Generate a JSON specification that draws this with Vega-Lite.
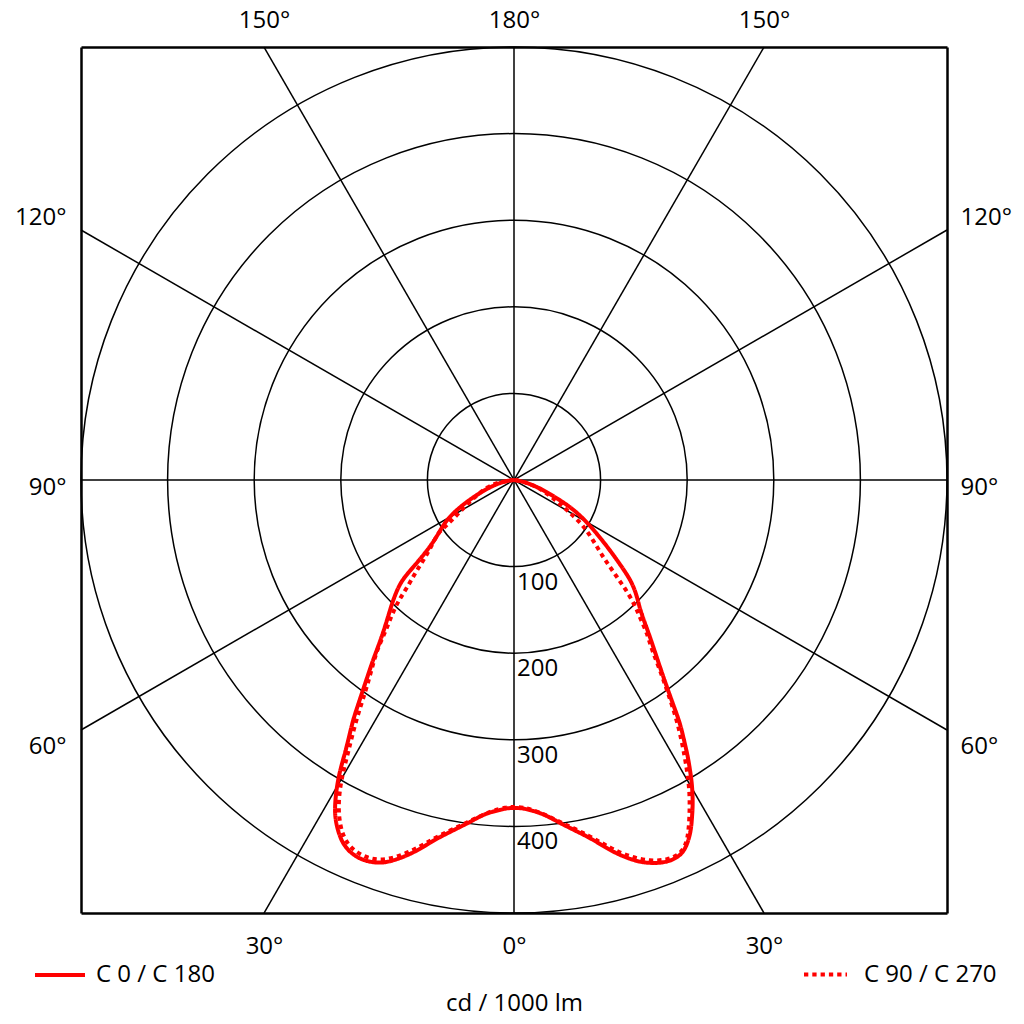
{
  "$schema": "https://vega.github.io/schema/vega-lite/v6.json",
  "width": 866,
  "height": 866,
  "autosize": {"type": "none"},
  "padding": {"left": 81, "top": 47, "right": 77, "bottom": 111},
  "background": "white",
  "config": {
    "view": {"stroke": null},
    "font": "Open Sans",
    "axis": {
      "domainColor": "black",
      "domainWidth": 2.5,
      "ticks": false,
      "grid": false,
      "labelFont": "Open Sans",
      "labelFontSize": 24,
      "labelColor": "black",
      "labelFlush": false,
      "labelOverlap": false,
      "titleFont": "Open Sans",
      "titleFontSize": 24,
      "titleFontWeight": "normal",
      "titleColor": "black"
    },
    "legend": {
      "labelFont": "Open Sans",
      "labelFontSize": 24,
      "labelColor": "black",
      "symbolType": "stroke",
      "symbolStrokeWidth": 4,
      "symbolStrokeColor": "#ff0000",
      "padding": 0
    }
  },
  "datasets": {
    "rings": [{"r": 100}, {"r": 200}, {"r": 300}, {"r": 400}, {"r": 500}],
    "ringlabels": [
      {"label": "100", "y": -100},
      {"label": "200", "y": -200},
      {"label": "300", "y": -300},
      {"label": "400", "y": -400}
    ],
    "rays": [
      {"x1": 0, "y1": -500, "x2": 0, "y2": 500},
      {"x1": 288.675, "y1": -500, "x2": -288.675, "y2": 500},
      {"x1": -288.675, "y1": -500, "x2": 288.675, "y2": 500},
      {"x1": 500, "y1": -288.675, "x2": -500, "y2": 288.675},
      {"x1": -500, "y1": -288.675, "x2": 500, "y2": 288.675},
      {"x1": -500, "y1": 0, "x2": 500, "y2": 0}
    ],
    "curves": [
      {"s": "C 0 / C 180", "i": 0, "x": 0, "y": 0},
      {"s": "C 0 / C 180", "i": 1, "x": -10.4, "y": -1.2},
      {"s": "C 0 / C 180", "i": 2, "x": -25.4, "y": -6.9},
      {"s": "C 0 / C 180", "i": 3, "x": -41.6, "y": -16.2},
      {"s": "C 0 / C 180", "i": 4, "x": -56.6, "y": -26.6},
      {"s": "C 0 / C 180", "i": 5, "x": -71.6, "y": -39.3},
      {"s": "C 0 / C 180", "i": 6, "x": -82.0, "y": -52.0},
      {"s": "C 0 / C 180", "i": 7, "x": -91.2, "y": -69.3},
      {"s": "C 0 / C 180", "i": 8, "x": -106.2, "y": -88.9},
      {"s": "C 0 / C 180", "i": 9, "x": -122.4, "y": -107.4},
      {"s": "C 0 / C 180", "i": 10, "x": -131.6, "y": -118.9},
      {"s": "C 0 / C 180", "i": 11, "x": -139.7, "y": -138.6},
      {"s": "C 0 / C 180", "i": 12, "x": -145.5, "y": -158.2},
      {"s": "C 0 / C 180", "i": 13, "x": -151.3, "y": -176.7},
      {"s": "C 0 / C 180", "i": 14, "x": -157.0, "y": -192.8},
      {"s": "C 0 / C 180", "i": 15, "x": -162.8, "y": -207.9},
      {"s": "C 0 / C 180", "i": 16, "x": -167.4, "y": -221.7},
      {"s": "C 0 / C 180", "i": 17, "x": -174.4, "y": -242.5},
      {"s": "C 0 / C 180", "i": 18, "x": -180.1, "y": -259.8},
      {"s": "C 0 / C 180", "i": 19, "x": -185.9, "y": -277.1},
      {"s": "C 0 / C 180", "i": 20, "x": -190.5, "y": -296.8},
      {"s": "C 0 / C 180", "i": 21, "x": -195.1, "y": -315.2},
      {"s": "C 0 / C 180", "i": 22, "x": -199.8, "y": -331.4},
      {"s": "C 0 / C 180", "i": 23, "x": -203.2, "y": -346.4},
      {"s": "C 0 / C 180", "i": 24, "x": -205.5, "y": -361.4},
      {"s": "C 0 / C 180", "i": 25, "x": -206.7, "y": -375.3},
      {"s": "C 0 / C 180", "i": 26, "x": -206.7, "y": -388.0},
      {"s": "C 0 / C 180", "i": 27, "x": -204.4, "y": -400.7},
      {"s": "C 0 / C 180", "i": 28, "x": -200.9, "y": -412.2},
      {"s": "C 0 / C 180", "i": 29, "x": -196.3, "y": -421.5},
      {"s": "C 0 / C 180", "i": 30, "x": -189.4, "y": -429.6},
      {"s": "C 0 / C 180", "i": 31, "x": -180.1, "y": -436.5},
      {"s": "C 0 / C 180", "i": 32, "x": -168.6, "y": -440.5},
      {"s": "C 0 / C 180", "i": 33, "x": -157.0, "y": -442.3},
      {"s": "C 0 / C 180", "i": 34, "x": -145.5, "y": -441.1},
      {"s": "C 0 / C 180", "i": 35, "x": -134.0, "y": -437.6},
      {"s": "C 0 / C 180", "i": 36, "x": -122.4, "y": -433.0},
      {"s": "C 0 / C 180", "i": 37, "x": -110.9, "y": -427.3},
      {"s": "C 0 / C 180", "i": 38, "x": -99.3, "y": -420.3},
      {"s": "C 0 / C 180", "i": 39, "x": -87.8, "y": -413.4},
      {"s": "C 0 / C 180", "i": 40, "x": -76.2, "y": -407.6},
      {"s": "C 0 / C 180", "i": 41, "x": -64.7, "y": -401.8},
      {"s": "C 0 / C 180", "i": 42, "x": -53.1, "y": -396.1},
      {"s": "C 0 / C 180", "i": 43, "x": -45.0, "y": -391.5},
      {"s": "C 0 / C 180", "i": 44, "x": -35.8, "y": -386.8},
      {"s": "C 0 / C 180", "i": 45, "x": -26.6, "y": -383.4},
      {"s": "C 0 / C 180", "i": 46, "x": -16.2, "y": -381.1},
      {"s": "C 0 / C 180", "i": 47, "x": -8.1, "y": -378.8},
      {"s": "C 0 / C 180", "i": 48, "x": 0, "y": -378.8},
      {"s": "C 0 / C 180", "i": 49, "x": 9.2, "y": -378.8},
      {"s": "C 0 / C 180", "i": 50, "x": 18.5, "y": -381.1},
      {"s": "C 0 / C 180", "i": 51, "x": 26.6, "y": -383.4},
      {"s": "C 0 / C 180", "i": 52, "x": 35.8, "y": -386.8},
      {"s": "C 0 / C 180", "i": 53, "x": 45.0, "y": -391.5},
      {"s": "C 0 / C 180", "i": 54, "x": 53.1, "y": -396.1},
      {"s": "C 0 / C 180", "i": 55, "x": 64.7, "y": -401.8},
      {"s": "C 0 / C 180", "i": 56, "x": 76.2, "y": -407.6},
      {"s": "C 0 / C 180", "i": 57, "x": 87.8, "y": -413.4},
      {"s": "C 0 / C 180", "i": 58, "x": 99.3, "y": -420.3},
      {"s": "C 0 / C 180", "i": 59, "x": 110.9, "y": -427.3},
      {"s": "C 0 / C 180", "i": 60, "x": 122.4, "y": -433.0},
      {"s": "C 0 / C 180", "i": 61, "x": 134.0, "y": -437.6},
      {"s": "C 0 / C 180", "i": 62, "x": 145.5, "y": -441.1},
      {"s": "C 0 / C 180", "i": 63, "x": 157.0, "y": -442.3},
      {"s": "C 0 / C 180", "i": 64, "x": 168.6, "y": -442.3},
      {"s": "C 0 / C 180", "i": 65, "x": 180.1, "y": -439.9},
      {"s": "C 0 / C 180", "i": 66, "x": 189.4, "y": -435.3},
      {"s": "C 0 / C 180", "i": 67, "x": 196.3, "y": -428.4},
      {"s": "C 0 / C 180", "i": 68, "x": 200.9, "y": -418.0},
      {"s": "C 0 / C 180", "i": 69, "x": 204.4, "y": -404.2},
      {"s": "C 0 / C 180", "i": 70, "x": 205.5, "y": -390.3},
      {"s": "C 0 / C 180", "i": 71, "x": 206.7, "y": -373.0},
      {"s": "C 0 / C 180", "i": 72, "x": 205.5, "y": -349.9},
      {"s": "C 0 / C 180", "i": 73, "x": 203.2, "y": -334.9},
      {"s": "C 0 / C 180", "i": 74, "x": 200.9, "y": -319.9},
      {"s": "C 0 / C 180", "i": 75, "x": 196.3, "y": -300.2},
      {"s": "C 0 / C 180", "i": 76, "x": 191.7, "y": -280.6},
      {"s": "C 0 / C 180", "i": 77, "x": 184.8, "y": -262.1},
      {"s": "C 0 / C 180", "i": 78, "x": 177.8, "y": -242.5},
      {"s": "C 0 / C 180", "i": 79, "x": 169.7, "y": -219.4},
      {"s": "C 0 / C 180", "i": 80, "x": 162.8, "y": -198.6},
      {"s": "C 0 / C 180", "i": 81, "x": 157.0, "y": -181.3},
      {"s": "C 0 / C 180", "i": 82, "x": 152.4, "y": -168.6},
      {"s": "C 0 / C 180", "i": 83, "x": 147.8, "y": -155.9},
      {"s": "C 0 / C 180", "i": 84, "x": 144.3, "y": -144.3},
      {"s": "C 0 / C 180", "i": 85, "x": 140.9, "y": -130.5},
      {"s": "C 0 / C 180", "i": 86, "x": 135.1, "y": -116.6},
      {"s": "C 0 / C 180", "i": 87, "x": 127.0, "y": -103.9},
      {"s": "C 0 / C 180", "i": 88, "x": 113.2, "y": -84.3},
      {"s": "C 0 / C 180", "i": 89, "x": 101.6, "y": -69.3},
      {"s": "C 0 / C 180", "i": 90, "x": 85.5, "y": -49.7},
      {"s": "C 0 / C 180", "i": 91, "x": 67.0, "y": -32.3},
      {"s": "C 0 / C 180", "i": 92, "x": 47.3, "y": -19.6},
      {"s": "C 0 / C 180", "i": 93, "x": 27.7, "y": -8.1},
      {"s": "C 0 / C 180", "i": 94, "x": 9.2, "y": -1.2},
      {"s": "C 0 / C 180", "i": 95, "x": 0, "y": 0},
      {"s": "C 90 / C 270", "i": 0, "x": 0, "y": 0},
      {"s": "C 90 / C 270", "i": 1, "x": -16.2, "y": -2.3},
      {"s": "C 90 / C 270", "i": 2, "x": -30.0, "y": -6.9},
      {"s": "C 90 / C 270", "i": 3, "x": -50.8, "y": -24.2},
      {"s": "C 90 / C 270", "i": 4, "x": -65.8, "y": -40.4},
      {"s": "C 90 / C 270", "i": 5, "x": -78.5, "y": -53.1},
      {"s": "C 90 / C 270", "i": 6, "x": -87.8, "y": -61.2},
      {"s": "C 90 / C 270", "i": 7, "x": -93.5, "y": -72.7},
      {"s": "C 90 / C 270", "i": 8, "x": -102.8, "y": -90.1},
      {"s": "C 90 / C 270", "i": 9, "x": -114.3, "y": -107.4},
      {"s": "C 90 / C 270", "i": 10, "x": -123.6, "y": -124.7},
      {"s": "C 90 / C 270", "i": 11, "x": -131.6, "y": -136.3},
      {"s": "C 90 / C 270", "i": 12, "x": -139.7, "y": -152.4},
      {"s": "C 90 / C 270", "i": 13, "x": -145.5, "y": -167.4},
      {"s": "C 90 / C 270", "i": 14, "x": -151.3, "y": -181.3},
      {"s": "C 90 / C 270", "i": 15, "x": -158.2, "y": -196.3},
      {"s": "C 90 / C 270", "i": 16, "x": -164.0, "y": -217.1},
      {"s": "C 90 / C 270", "i": 17, "x": -170.9, "y": -242.5},
      {"s": "C 90 / C 270", "i": 18, "x": -182.4, "y": -277.1},
      {"s": "C 90 / C 270", "i": 19, "x": -191.7, "y": -315.2},
      {"s": "C 90 / C 270", "i": 20, "x": -199.8, "y": -346.4},
      {"s": "C 90 / C 270", "i": 21, "x": -203.2, "y": -375.3},
      {"s": "C 90 / C 270", "i": 22, "x": -200.9, "y": -400.7},
      {"s": "C 90 / C 270", "i": 23, "x": -193.9, "y": -419.2},
      {"s": "C 90 / C 270", "i": 24, "x": -178.9, "y": -433.0},
      {"s": "C 90 / C 270", "i": 25, "x": -157.0, "y": -440.0},
      {"s": "C 90 / C 270", "i": 26, "x": -134.0, "y": -435.3},
      {"s": "C 90 / C 270", "i": 27, "x": -110.9, "y": -424.9},
      {"s": "C 90 / C 270", "i": 28, "x": -87.8, "y": -411.1},
      {"s": "C 90 / C 270", "i": 29, "x": -53.1, "y": -394.9},
      {"s": "C 90 / C 270", "i": 30, "x": -26.6, "y": -382.2},
      {"s": "C 90 / C 270", "i": 31, "x": -9.2, "y": -377.6},
      {"s": "C 90 / C 270", "i": 32, "x": 0, "y": -377.6},
      {"s": "C 90 / C 270", "i": 33, "x": 9.2, "y": -377.6},
      {"s": "C 90 / C 270", "i": 34, "x": 26.6, "y": -382.2},
      {"s": "C 90 / C 270", "i": 35, "x": 53.1, "y": -394.9},
      {"s": "C 90 / C 270", "i": 36, "x": 87.8, "y": -411.1},
      {"s": "C 90 / C 270", "i": 37, "x": 110.9, "y": -424.9},
      {"s": "C 90 / C 270", "i": 38, "x": 134.0, "y": -435.3},
      {"s": "C 90 / C 270", "i": 39, "x": 157.0, "y": -440.0},
      {"s": "C 90 / C 270", "i": 40, "x": 177.8, "y": -438.8},
      {"s": "C 90 / C 270", "i": 41, "x": 191.7, "y": -431.9},
      {"s": "C 90 / C 270", "i": 42, "x": 198.6, "y": -421.5},
      {"s": "C 90 / C 270", "i": 43, "x": 202.0, "y": -404.2},
      {"s": "C 90 / C 270", "i": 44, "x": 203.2, "y": -373.0},
      {"s": "C 90 / C 270", "i": 45, "x": 202.0, "y": -349.9},
      {"s": "C 90 / C 270", "i": 46, "x": 197.4, "y": -319.9},
      {"s": "C 90 / C 270", "i": 47, "x": 189.4, "y": -280.6},
      {"s": "C 90 / C 270", "i": 48, "x": 176.6, "y": -242.5},
      {"s": "C 90 / C 270", "i": 49, "x": 168.6, "y": -219.4},
      {"s": "C 90 / C 270", "i": 50, "x": 159.3, "y": -196.3},
      {"s": "C 90 / C 270", "i": 51, "x": 153.6, "y": -176.7},
      {"s": "C 90 / C 270", "i": 52, "x": 146.7, "y": -161.7},
      {"s": "C 90 / C 270", "i": 53, "x": 142.0, "y": -150.1},
      {"s": "C 90 / C 270", "i": 54, "x": 135.1, "y": -136.3},
      {"s": "C 90 / C 270", "i": 55, "x": 127.0, "y": -123.6},
      {"s": "C 90 / C 270", "i": 56, "x": 118.9, "y": -112.0},
      {"s": "C 90 / C 270", "i": 57, "x": 110.9, "y": -100.5},
      {"s": "C 90 / C 270", "i": 58, "x": 102.8, "y": -88.9},
      {"s": "C 90 / C 270", "i": 59, "x": 91.2, "y": -69.3},
      {"s": "C 90 / C 270", "i": 60, "x": 79.7, "y": -52.0},
      {"s": "C 90 / C 270", "i": 61, "x": 64.7, "y": -38.1},
      {"s": "C 90 / C 270", "i": 62, "x": 50.8, "y": -25.4},
      {"s": "C 90 / C 270", "i": 63, "x": 30.0, "y": -9.2},
      {"s": "C 90 / C 270", "i": 64, "x": 12.7, "y": -2.3},
      {"s": "C 90 / C 270", "i": 65, "x": 0, "y": 0}
    ]
  },
  "layer": [
    {
      "data": {"name": "rings"},
      "mark": {"type": "point", "shape": "circle", "filled": false, "stroke": "black", "strokeWidth": 1.5, "opacity": 1},
      "encoding": {
        "x": {
          "datum": 0, "type": "quantitative",
          "scale": {"domain": [-500, 500], "nice": false, "zero": false},
          "axis": {
            "orient": "bottom",
            "values": [-288.675, 0, 288.675],
            "labelExpr": "datum.value == 0 ? '0°' : '30°'",
            "labelPadding": 21,
            "title": "cd / 1000 lm",
            "titlePadding": 33
          }
        },
        "y": {
          "datum": 0, "type": "quantitative",
          "scale": {"domain": [-500, 500], "nice": false, "zero": false},
          "axis": {
            "orient": "left",
            "values": [-288.675, 0, 288.675],
            "labelExpr": "datum.value > 1 ? '120°' : (datum.value < -1 ? '60°' : '90°')",
            "labelPadding": 15,
            "labelOffset": {"condition": [{"test": "datum.value > 1", "value": -13}, {"test": "datum.value < -1", "value": 17}], "value": 7},
            "title": null
          }
        },
        "size": {
          "field": "r", "type": "quantitative",
          "scale": {"type": "pow", "exponent": 2, "domain": [0, 500], "range": [0, 749956]},
          "legend": null
        }
      }
    },
    {
      "data": {"name": "rays"},
      "mark": {"type": "rule", "color": "black", "strokeWidth": 1.5},
      "encoding": {
        "x": {
          "field": "x1", "type": "quantitative",
          "scale": {"domain": [-500, 500], "nice": false, "zero": false},
          "axis": {
            "orient": "top",
            "values": [-288.675, 0, 288.675],
            "labelExpr": "datum.value == 0 ? '180°' : '150°'",
            "labelPadding": 15,
            "title": null
          }
        },
        "y": {
          "field": "y1", "type": "quantitative",
          "scale": {"domain": [-500, 500], "nice": false, "zero": false},
          "axis": {
            "orient": "right",
            "values": [-288.675, 0, 288.675],
            "labelExpr": "datum.value > 1 ? '120°' : (datum.value < -1 ? '60°' : '90°')",
            "labelPadding": 13,
            "labelOffset": {"condition": [{"test": "datum.value > 1", "value": -13}, {"test": "datum.value < -1", "value": 17}], "value": 7},
            "title": null
          }
        },
        "x2": {"field": "x2"},
        "y2": {"field": "y2"}
      }
    },
    {
      "data": {"name": "curves"},
      "transform": [{"filter": "datum.s == 'C 0 / C 180'"}],
      "mark": {"type": "line", "color": "#ff0000", "strokeWidth": 4, "interpolate": "basis", "strokeJoin": "round"},
      "encoding": {
        "x": {"field": "x", "type": "quantitative", "scale": {"domain": [-500, 500], "nice": false, "zero": false}, "axis": null},
        "y": {"field": "y", "type": "quantitative", "scale": {"domain": [-500, 500], "nice": false, "zero": false}, "axis": null},
        "order": {"field": "i", "type": "quantitative"},
        "strokeDash": {
          "field": "s", "type": "nominal",
          "scale": {"domain": ["C 0 / C 180"], "range": [[1, 0]]},
          "legend": {"orient": "none", "legendX": -48, "legendY": 901, "title": null, "symbolSize": 2500, "labelOffset": 9, "symbolDash": [1, 0]}
        }
      }
    },
    {
      "data": {"name": "curves"},
      "transform": [{"filter": "datum.s == 'C 90 / C 270'"}],
      "mark": {"type": "line", "color": "#ff0000", "strokeWidth": 4, "interpolate": "basis"},
      "encoding": {
        "x": {"field": "x", "type": "quantitative", "scale": {"domain": [-500, 500], "nice": false, "zero": false}, "axis": null},
        "y": {"field": "y", "type": "quantitative", "scale": {"domain": [-500, 500], "nice": false, "zero": false}, "axis": null},
        "order": {"field": "i", "type": "quantitative"},
        "strokeDash": {
          "field": "s", "type": "nominal",
          "scale": {"domain": ["C 90 / C 270"], "range": [[4.3, 4]]},
          "legend": {"orient": "none", "legendX": 721, "legendY": 904, "title": null, "symbolSize": 1849, "labelOffset": 15, "symbolDash": [4.3, 4]}
        }
      }
    },
    {
      "data": {"name": "ringlabels"},
      "mark": {"type": "text", "align": "left", "baseline": "top", "dx": 3, "dy": 4, "fontSize": 24, "font": "Open Sans", "color": "black"},
      "encoding": {
        "x": {"datum": 0, "type": "quantitative", "scale": {"domain": [-500, 500], "nice": false, "zero": false}, "axis": null},
        "y": {"field": "y", "type": "quantitative", "scale": {"domain": [-500, 500], "nice": false, "zero": false}, "axis": null},
        "text": {"field": "label", "type": "nominal"}
      }
    }
  ],
  "resolve": {
    "axis": {"x": "independent", "y": "independent"},
    "scale": {"strokeDash": "independent"}
  }
}
